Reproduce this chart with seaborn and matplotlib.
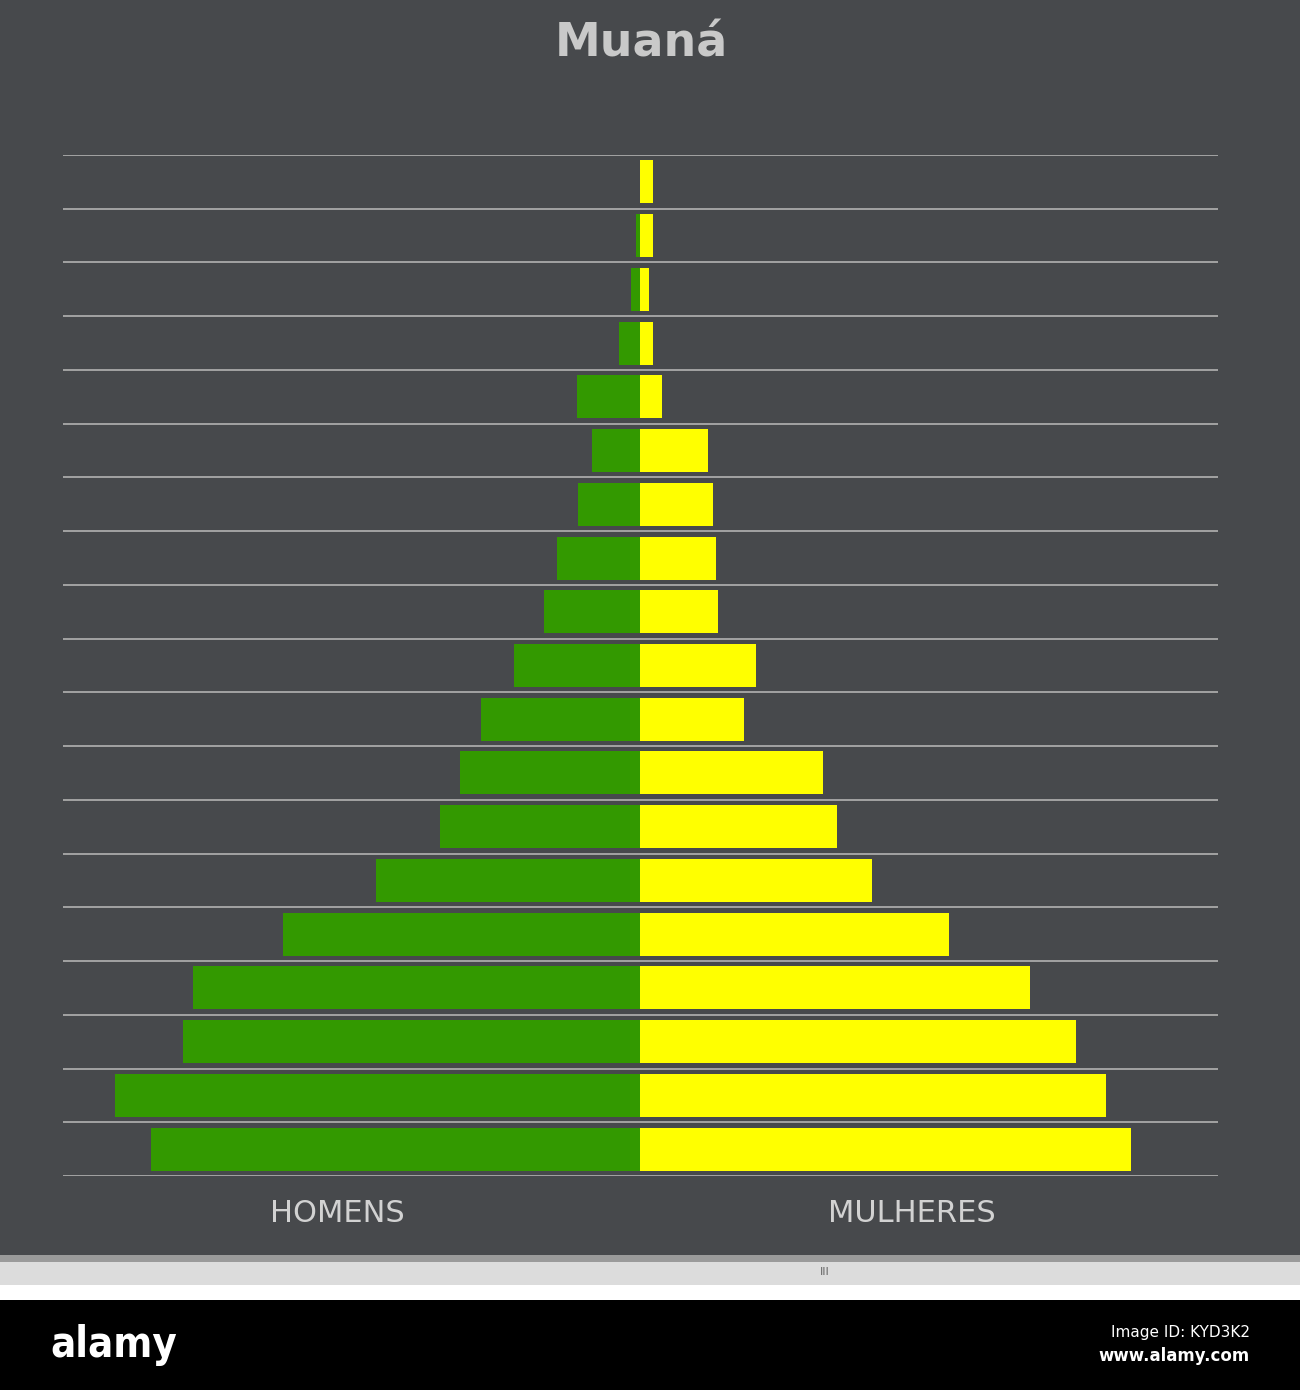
import numpy as np
import pandas as pd
import seaborn as sns
import matplotlib.pyplot as plt
from matplotlib.patches import Rectangle

# age groups, oldest at the top
age_groups = ['90+', '85-89', '80-84', '75-79', '70-74', '65-69', '60-64', '55-59',
              '50-54', '45-49', '40-44', '35-39', '30-34', '25-29', '20-24',
              '15-19', '10-14', '5-9', '0-4']
homens = [0, 20, 45, 105, 315, 240, 310, 415, 480, 630, 795, 900, 1000,
          1320, 1785, 2235, 2285, 2625, 2445]
mulheres = [65, 65, 45, 65, 110, 340, 365, 380, 390, 580, 520, 915, 985,
            1160, 1545, 1950, 2180, 2330, 2455]

bg = '#47494c'
verde = '#339900'
amarelo = '#ffff00'

df = pd.DataFrame({'idade': age_groups,
                   'homens': -np.array(homens),
                   'mulheres': mulheres})

sns.set_style('dark')
plt.rcParams['font.family'] = ['DejaVu Sans']

W, H = 1300, 1390
fig = plt.figure(figsize=(W / 100, H / 100), dpi=100, facecolor=bg)
ax = fig.add_axes([63 / W, 1 - 1176 / H, (1218 - 63) / W, (1176 - 155) / H])
ax.set_facecolor(bg)

sns.barplot(data=df, x='homens', y='idade', orient='h', color=verde,
            width=0.8, saturation=1, linewidth=0, ax=ax)
sns.barplot(data=df, x='mulheres', y='idade', orient='h', color=amarelo,
            width=0.8, saturation=1, linewidth=0, ax=ax)

ax.set_xlim(-2885, 2890)
ax.set_ylim(len(age_groups) - 0.5, -0.5)
for k in range(len(age_groups) + 1):
    ax.axhline(k - 0.5, color='#a3a3a3', lw=1.4, zorder=0)

ax.set_xticks([])
ax.set_yticks([])
ax.set_xlabel('')
ax.set_ylabel('')
for s in ax.spines.values():
    s.set_visible(False)
ax.grid(False)

fig.text(641 / W, 1 - 44 / H, 'Muaná', ha='center', va='center',
         fontsize=33, fontweight='bold', color='#c9c9c9')
fig.text(337 / W, 1 - 1213 / H, 'HOMENS', ha='center', va='center',
         fontsize=22, color='#d2d2d2')
fig.text(912 / W, 1 - 1213 / H, 'MULHERES', ha='center', va='center',
         fontsize=22, color='#d2d2d2')

# window strip and footer band below the chart
fig.patches.append(Rectangle((0, 1 - 1262 / H), 1, 7 / H, transform=fig.transFigure,
                             facecolor='#9a9a9a', edgecolor='none'))
fig.patches.append(Rectangle((0, 1 - 1285 / H), 1, 23 / H, transform=fig.transFigure,
                             facecolor='#dcdcdc', edgecolor='none'))
fig.patches.append(Rectangle((0, 1 - 1300 / H), 1, 15 / H, transform=fig.transFigure,
                             facecolor='white', edgecolor='none'))
fig.patches.append(Rectangle((0, 0), 1, 90 / H, transform=fig.transFigure,
                             facecolor='black', edgecolor='none'))
fig.text(825 / W, 1 - 1272 / H, 'III', ha='center', va='center',
         fontsize=8, color='#666666')
fig.text(50 / W, 1 - 1345 / H, 'alamy', ha='left', va='center',
         fontsize=30, fontweight='bold', color='white', fontstretch='condensed')
fig.text(1250 / W, 1 - 1332 / H, 'Image ID: KYD3K2', ha='right', va='center',
         fontsize=11, color='white')
fig.text(1250 / W, 1 - 1356 / H, 'www.alamy.com', ha='right', va='center',
         fontsize=12, fontweight='bold', color='white')

fig.savefig('out.png', dpi=100, facecolor=bg)
